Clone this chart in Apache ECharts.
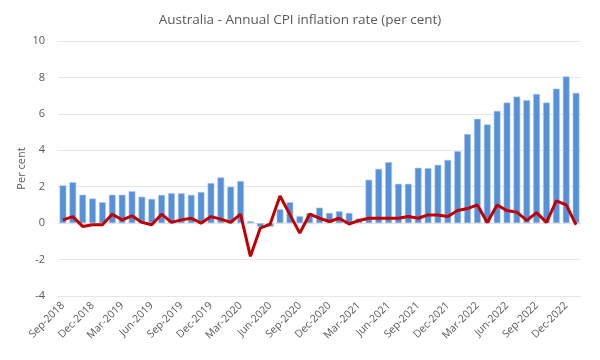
<!DOCTYPE html>
<html>
<head>
<meta charset="utf-8">
<script src="https://cdn.jsdelivr.net/npm/echarts@6/dist/echarts.min.js"></script>
<style>html,body{margin:0;padding:0;background:#fff;}#c{width:600px;height:360px;}</style>
</head>
<body>
<div id="c"></div>
<script>
const months = ['Jan','Feb','Mar','Apr','May','Jun','Jul','Aug','Sep','Oct','Nov','Dec'];
const categories = [];
for (let y = 2018, m = 8; categories.length < 53; ) {
  categories.push(months[m] + '-' + y);
  m++; if (m === 12) { m = 0; y++; }
}
const annualCPI = [
  2.07, 2.25, 1.56, 1.35, 1.15, 1.56, 1.56, 1.75, 1.45, 1.33, 1.55, 1.64, 1.64, 1.55, 1.71, 2.2, 2.51, 2.0,
  2.31, 0.1, -0.2, -0.2, 0.76, 1.15, 0.38, 0.55, 0.85, 0.56, 0.65, 0.56, 0.25,
  2.38, 2.98, 3.35, 2.16, 2.16, 3.04, 3.02, 3.2, 3.47, 3.95, 4.89, 5.73, 5.42, 6.16, 6.62, 6.95, 6.75, 7.09, 6.62, 7.38, 8.05, 7.15
];
const monthlyCPI = [
  0.18, 0.36, -0.18, -0.09, -0.09, 0.49, 0.18, 0.4, 0.04, -0.09, 0.49, 0.04, 0.18, 0.27, 0.0, 0.36, 0.22, 0.04,
  0.49, -1.82, -0.27, -0.05, 1.49, 0.47, -0.55, 0.49, 0.27, 0.09, 0.27, -0.05, 0.15,
  0.27, 0.27, 0.27, 0.27, 0.36, 0.27, 0.45, 0.45, 0.36, 0.69, 0.8, 1.0, 0.04, 1.0, 0.69, 0.6, 0.15, 0.58, 0.04, 1.22, 1.0, -0.09
];
const yTicks = { min: -4, max: 10, interval: 2 };

const chart = echarts.init(document.getElementById('c'), null, { renderer: 'canvas' });
chart.setOption({
  animation: false,
  title: {
    text: 'Australia - Annual CPI inflation rate (per cent)',
    left: 'center', top: 8,
    textStyle: { fontFamily: 'Open Sans', fontSize: 13.5, fontWeight: 'normal', color: '#595959' }
  },
  grid: { left: 58, right: 19, top: 41, bottom: 64, containLabel: false },
  xAxis: {
    type: 'category',
    data: categories,
    axisLine: { show: false, onZero: false },
    axisTick: { show: false },
    axisLabel: {
      interval: 2, rotate: 45, margin: 8,
      fontFamily: 'Open Sans', fontSize: 10.5, color: '#595959'
    },
    splitLine: { show: false }
  },
  yAxis: {
    type: 'value',
    min: yTicks.min, max: yTicks.max, interval: yTicks.interval,
    name: 'Per cent', nameLocation: 'middle', nameGap: 31, nameRotate: 90,
    nameMoveOverlap: false,
    nameTextStyle: { fontFamily: 'Open Sans', fontSize: 11, color: '#595959' },
    axisLine: { show: false },
    axisTick: { show: false },
    axisLabel: { fontFamily: 'Open Sans', fontSize: 11, color: '#595959', margin: 13 },
    splitLine: { lineStyle: { color: '#e6e6e6', width: 1 } }
  },
  series: [
    {
      name: 'Annual', type: 'bar', data: annualCPI,
      barCategoryGap: '32%',
      itemStyle: { color: '#5590d8', borderColor: '#a8c4ec', borderWidth: 0.6 }
    },
    {
      name: 'Monthly', type: 'line', data: monthlyCPI,
      symbol: 'none',
      lineStyle: { color: '#c00000', width: 3 },
      z: 5
    }
  ]
});
</script>
</body>
</html>
